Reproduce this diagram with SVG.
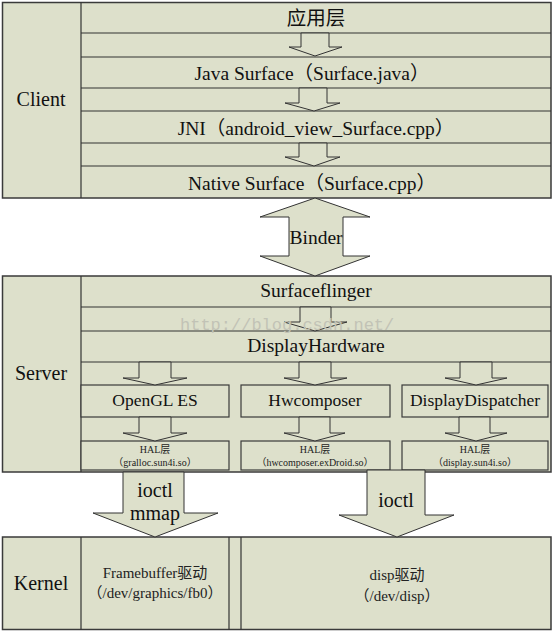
<svg xmlns="http://www.w3.org/2000/svg" width="554" height="634" viewBox="0 0 554 634">
<defs>
<style>
.box{fill:#dde0cb;stroke:#3a3a3a;stroke-width:1.5}
.ln{stroke:#333;stroke-width:1.2;fill:none}
.arr{fill:#dde0cb;stroke:#333;stroke-width:1}
.t{font-family:'Liberation Serif','Noto Sans CJK SC',serif;font-size:19.5px;fill:#111;text-anchor:middle}
.m{font-family:'Liberation Serif','Noto Sans CJK SC',serif;font-size:17.5px;fill:#111;text-anchor:middle}
.s{font-family:'Liberation Serif','Noto Sans CJK SC',serif;font-size:10px;fill:#222;text-anchor:middle}
.k{font-family:'Liberation Serif','Noto Sans CJK SC',serif;font-size:15px;fill:#222;text-anchor:middle}
.lb{font-family:'Liberation Serif','Noto Sans CJK SC',serif;font-size:20px;fill:#111;text-anchor:middle}
.wm{font-family:'Liberation Mono',monospace;font-size:17px;fill:#c2c3b6;text-anchor:start}
</style>
</defs>
<rect width="554" height="634" fill="#ffffff"/>

<g id="client">
<rect class="box" x="2.5" y="2.5" width="548.5" height="195.5"/>
<line class="ln" x1="81" y1="2.5" x2="81" y2="198"/>
<line class="ln" x1="81" y1="33" x2="551" y2="33"/>
<line class="ln" x1="81" y1="57" x2="551" y2="57"/>
<line class="ln" x1="81" y1="88" x2="551" y2="88"/>
<line class="ln" x1="81" y1="111" x2="551" y2="111"/>
<line class="ln" x1="81" y1="143" x2="551" y2="143"/>
<line class="ln" x1="81" y1="166" x2="551" y2="166"/>
<text class="lb" x="41" y="106">Client</text>
</g>
<g id="app"><text class="t" x="316" y="25">应用层</text></g>
<g id="java"><text class="t" x="312" y="80">Java Surface（Surface.java）</text></g>
<g id="jni"><text class="t" x="316" y="135">JNI（android_view_Surface.cpp）</text></g>
<g id="native"><text class="t" x="312" y="190">Native Surface（Surface.cpp）</text></g>

<g id="server">
<rect class="box" x="2.5" y="276" width="548.5" height="196"/>
<line class="ln" x1="81" y1="276" x2="81" y2="472"/>
<line class="ln" x1="81" y1="307" x2="551" y2="307"/>
<line class="ln" x1="81" y1="331" x2="551" y2="331"/>
<line class="ln" x1="81" y1="362" x2="551" y2="362"/>
<text class="lb" x="41" y="380">Server</text>
</g>
<g id="surfaceflinger"><text class="t" x="316" y="297">Surfaceflinger</text></g>
<g id="displayhardware"><text class="t" x="316" y="352">DisplayHardware</text></g>
<g id="opengl"><rect class="box" x="81" y="385" width="148" height="32" style="stroke-width:1.2"/><text class="m" x="155" y="406">OpenGL ES</text></g>
<g id="hwcomposer"><rect class="box" x="241" y="385" width="149" height="32" style="stroke-width:1.2"/><text class="m" x="315" y="406">Hwcomposer</text></g>
<g id="displaydispatcher"><rect class="box" x="402" y="385" width="146" height="32" style="stroke-width:1.2"/><text class="m" x="475" y="406">DisplayDispatcher</text></g>
<g id="hal1"><rect class="box" x="81" y="441" width="148" height="29" style="stroke-width:1.2"/><text class="s" x="155" y="453">HAL层</text><text class="s" x="155" y="466">（gralloc.sun4i.so）</text></g>
<g id="hal2"><rect class="box" x="241" y="441" width="149" height="29" style="stroke-width:1.2"/><text class="s" x="315" y="453">HAL层</text><text class="s" x="315" y="466">（hwcomposer.exDroid.so）</text></g>
<g id="hal3"><rect class="box" x="402" y="441" width="146" height="29" style="stroke-width:1.2"/><text class="s" x="475" y="453">HAL层</text><text class="s" x="475" y="466">（display.sun4i.so）</text></g>

<g id="kernel">
<rect class="box" x="2.5" y="537" width="548.5" height="92.5"/>
<line class="ln" x1="81" y1="537" x2="81" y2="629.5"/>
<line class="ln" x1="229" y1="537" x2="229" y2="629.5"/>
<line class="ln" x1="241" y1="537" x2="241" y2="629.5"/>
<text class="lb" x="41" y="590">Kernel</text>
</g>
<g id="framebuffer"><text class="k" x="155" y="578">Framebuffer驱动</text><text class="k" x="155" y="598">（/dev/graphics/fb0）</text></g>
<g id="disp"><text class="k" x="397" y="580">disp驱动</text><text class="k" x="397" y="601">（/dev/disp）</text></g>

<g id="connectors">
<polygon class="arr" points="301,33 329,33 329,47 342,47 315,56 289,47 301,47"/>
<polygon class="arr" points="299,88 327,88 327,103 340,103 314,111 285,103 299,103"/>
<polygon class="arr" points="299,143 327,143 327,157 340,157 314,166 285,157 299,157"/>
<polygon class="arr" points="315,198 370,217 343,217 343,256 370,256 315,276 260,256 289,256 289,217 260,217"/>
<polygon class="arr" points="300,307 331,307 331,322 347,322 315,331 284,322 300,322"/>
<polygon class="arr" points="139,362 171,362 171,378 187,378 155,385 123,378 139,378"/>
<polygon class="arr" points="299,362 331,362 331,378 347,378 315,385 284,378 299,378"/>
<polygon class="arr" points="460,362 492,362 492,378 507,378 476,385 445,378 460,378"/>
<polygon class="arr" points="139,417 171,417 171,433 187,433 155,441 123,433 139,433"/>
<polygon class="arr" points="299,417 330,417 330,433 345,433 315,441 284,433 299,433"/>
<polygon class="arr" points="459,417 490,417 490,433 507,433 476,441 445,433 459,433"/>
<polygon class="arr" points="123,472 184,472 184,513 218,513 155,537 93,513 123,513"/>
<polygon class="arr" points="367,470 425,470 425,515 454,515 397,537 339,515 367,515"/>
</g>
<g id="labels">
<text class="t" x="316" y="244">Binder</text>
<text class="lb" x="155" y="497">ioctl</text>
<text class="lb" x="155" y="520">mmap</text>
<text class="lb" x="396" y="507">ioctl</text>
</g>
<text class="wm" x="180" y="330">http://blog.csdn.net/</text>
</svg>
